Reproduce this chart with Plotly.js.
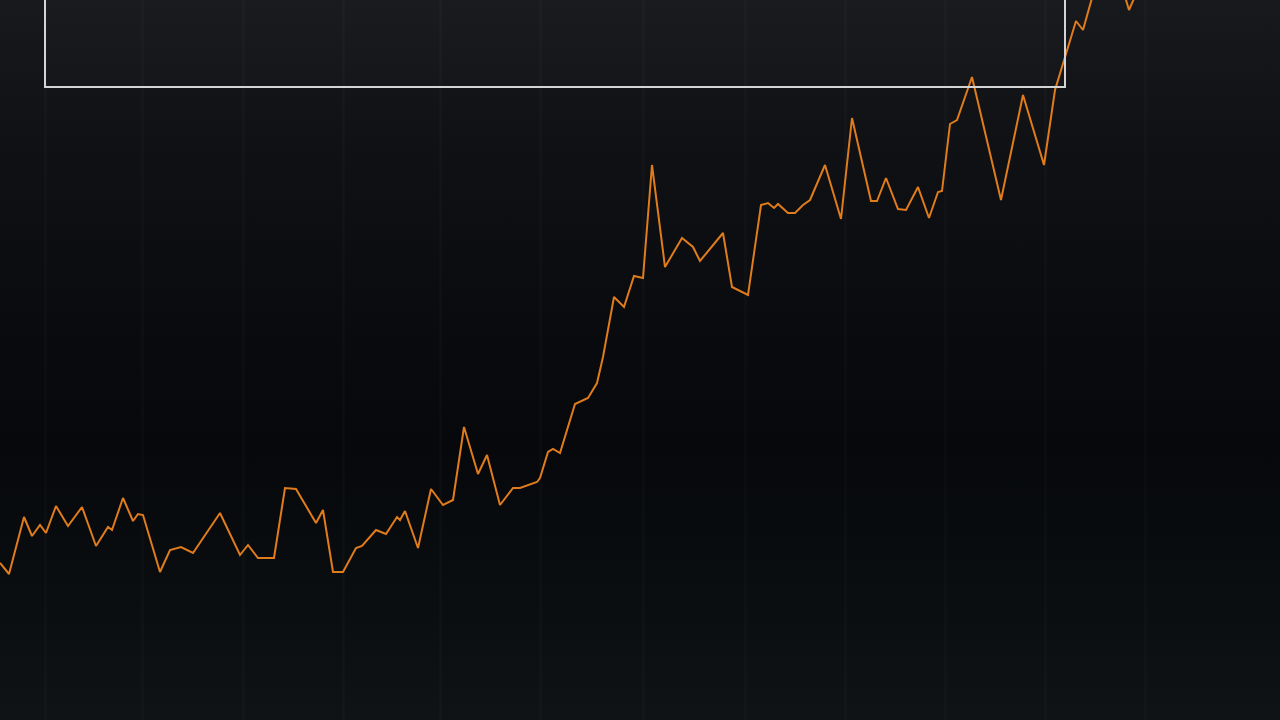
<!DOCTYPE html>
<html>
<head>
<meta charset="utf-8">
<script src="https://cdn.plot.ly/plotly-3.0.1.min.js"></script>
<style>
  html, body { margin: 0; padding: 0; width: 1280px; height: 720px; overflow: hidden;
    background: linear-gradient(to bottom, #17191c 0%, #0f1115 20%, #090b0f 45%, #06080c 62%, #0b0e11 85%, #101316 100%); }
  #chart { width: 1280px; height: 720px; }
</style>
</head>
<body>
<div id="chart"></div>
<script>
// Series: time index (x) and price level (y)
const timeIndex = [0,9,24,32,40,46,56,68,82,96,108,112,123,133,138,143,160,170,181,193,220,240,248,258,274,285,296,316,323,333,343,356,362,376,381,386,397,400,405,418,431,443,453,464,478,487,500,513,520,537,540,548,553,560,575,588,597,603,614,624,634,643,652,665,682,693,700,723,732,748,761,768,774,778,788,795,803,810,825,841,852,871,877,886,898,906,918,929,938,942,950,957,972,1001,1023,1044,1055,1076,1083,1092,1100,1110,1120,1129,1136,1145];
const priceLevel = [157,146,203,184,195,187,214,194,213,174,193,190,222,199,206,205,148,170,173,167,207,165,175,162,162,232,231,197,210,148,148,172,174,190,188,186,203,200,209,172,231,215,220,293,246,265,215,232,232,238,242,268,271,267,316,322,337,363,423,413,444,442,555,453,482,473,459,487,433,425,515,517,512,516,507,507,515,520,555,501,602,519,519,542,511,510,533,502,528,529,596,600,643,520,625,555,630,699,690,722,732,726,740,710,726,745];
// Highlight box bounds (x range, y range)
const boxX = [45, 1065];
const boxY = [633, 740];
// Vertical grid positions
const gridTicks = [45,142,243,343,440,540,643,745,845,945,1045,1145];

const trace = {
  x: timeIndex, y: priceLevel, type: 'scatter', mode: 'lines',
  line: { color: '#e07c1b', width: 2 }, hoverinfo: 'skip'
};

const layout = {
  width: 1280, height: 720,
  margin: { l: 0, r: 0, t: 0, b: 0, pad: 0 },
  paper_bgcolor: 'rgba(0,0,0,0)', plot_bgcolor: 'rgba(0,0,0,0)',
  showlegend: false,
  xaxis: { range: [0, 1280], showgrid: true, gridcolor: 'rgba(255,255,255,0.018)', gridwidth: 3,
           tickvals: gridTicks, showticklabels: false, ticks: '', zeroline: false, showline: false, fixedrange: true },
  yaxis: { range: [0, 720], showgrid: false, showticklabels: false, ticks: '', zeroline: false, showline: false, fixedrange: true },
  shapes: [{
    type: 'rect', xref: 'x', yref: 'y',
    x0: boxX[0], x1: boxX[1], y0: boxY[0], y1: boxY[1],
    line: { color: '#d4d4d4', width: 2 }, fillcolor: 'rgba(255,255,255,0.01)'
  }]
};

Plotly.newPlot('chart', [trace], layout, { staticPlot: true, displayModeBar: false });
</script>
</body>
</html>
